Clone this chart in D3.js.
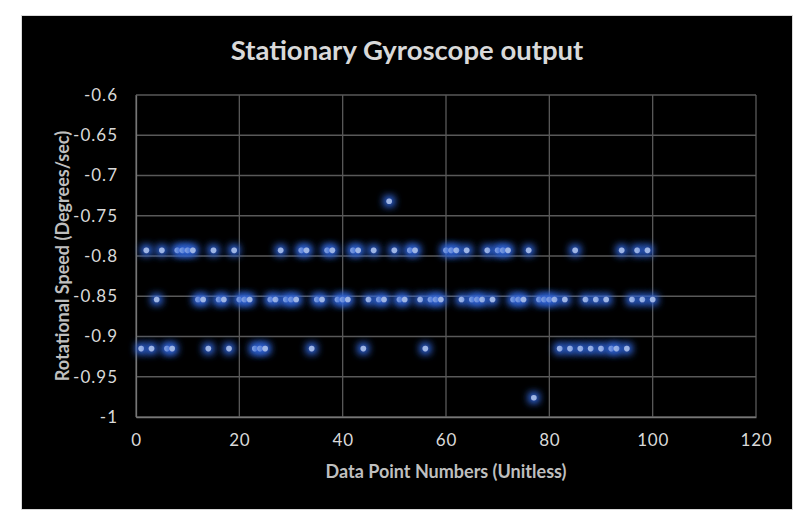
<!DOCTYPE html>
<html>
<head>
<meta charset="utf-8">
<script src="https://cdn.jsdelivr.net/npm/d3@7"></script>
<style>
    body { margin: 0; background: #ffffff; }
    svg text { font-family: Lato, "Open Sans", sans-serif; fill: #d9d9d9; }
</style>
</head>
<body>
<div id="chart"></div>
<script>
// x values are just the point numbers 1..100
var pointNumbers = d3.range(1, 101);

// rotational speed readings (deg/sec)
var speeds = [
    -0.915, -0.793, -0.915, -0.854, -0.793, -0.915, -0.915, -0.793, -0.793, -0.793,
    -0.793, -0.854, -0.854, -0.915, -0.793, -0.854, -0.854, -0.915, -0.793, -0.854,
    -0.854, -0.854, -0.915, -0.915, -0.915, -0.854, -0.854, -0.793, -0.854, -0.854,
    -0.854, -0.793, -0.793, -0.915, -0.854, -0.854, -0.793, -0.793, -0.854, -0.854,
    -0.854, -0.793, -0.793, -0.915, -0.854, -0.793, -0.854, -0.854, -0.732, -0.793,
    -0.854, -0.854, -0.793, -0.793, -0.854, -0.915, -0.854, -0.854, -0.854, -0.793,
    -0.793, -0.793, -0.854, -0.793, -0.854, -0.854, -0.854, -0.793, -0.854, -0.793,
    -0.793, -0.793, -0.854, -0.854, -0.854, -0.793, -0.976, -0.854, -0.854, -0.854,
    -0.854, -0.915, -0.854, -0.915, -0.793, -0.915, -0.854, -0.915, -0.854, -0.915,
    -0.854, -0.915, -0.915, -0.793, -0.915, -0.854, -0.793, -0.854, -0.793, -0.854
];

var xTicks = [0, 20, 40, 60, 80, 100, 120];
var yTicks = [-1, -0.95, -0.9, -0.85, -0.8, -0.75, -0.7, -0.65, -0.6];

var data = pointNumbers.map(function (n, i) {
    return {n: n, speed: speeds[i]};
});

var totalWidth = 806, totalHeight = 530;
var margin = {top: 95, right: 50, bottom: 113, left: 136};
var width = 756 - margin.left;
var height = 417 - margin.top;

var svg = d3.select("#chart").append("svg")
    .attr("width", totalWidth)
    .attr("height", totalHeight);

// glow filter for the markers
var defs = svg.append("defs");
var glow = defs.append("filter")
    .attr("id", "glow")
    .attr("x", "-300%").attr("y", "-300%")
    .attr("width", "700%").attr("height", "700%");
glow.append("feMorphology")
    .attr("in", "SourceAlpha").attr("operator", "dilate").attr("radius", 2.5)
    .attr("result", "fat");
glow.append("feGaussianBlur")
    .attr("in", "fat").attr("stdDeviation", 3.8).attr("result", "blur");
glow.append("feFlood")
    .attr("flood-color", "#2e63d6").attr("flood-opacity", 1);
glow.append("feComposite")
    .attr("in2", "blur").attr("operator", "in").attr("result", "halo");
var merge = glow.append("feMerge");
merge.append("feMergeNode").attr("in", "halo");
merge.append("feMergeNode").attr("in", "SourceGraphic");

// chart background with the thin light frame
svg.append("rect")
    .attr("x", 21.5).attr("y", 15.5)
    .attr("width", 771).attr("height", 494)
    .attr("fill", "#000000")
    .attr("stroke", "#d9d9d9")
    .attr("stroke-width", 1);

var g = svg.append("g")
    .attr("transform", "translate(" + margin.left + "," + margin.top + ")");

var x = d3.scaleLinear().domain([0, 120]).range([0, width]);
var y = d3.scaleLinear().domain([-1, -0.6]).range([height, 0]);

// gridlines
g.append("g")
    .selectAll("line.hgrid")
    .data(yTicks)
    .enter().append("line")
    .attr("class", "hgrid")
    .attr("x1", 0).attr("x2", width)
    .attr("y1", function (d) { return y(d); })
    .attr("y2", function (d) { return y(d); })
    .attr("stroke", "#595959")
    .attr("stroke-width", 1.3);

g.append("g")
    .selectAll("line.vgrid")
    .data(xTicks)
    .enter().append("line")
    .attr("class", "vgrid")
    .attr("y1", 0).attr("y2", height)
    .attr("x1", function (d) { return x(d); })
    .attr("x2", function (d) { return x(d); })
    .attr("stroke", "#595959")
    .attr("stroke-width", 1.3);

// axes (labels; the grid draws the rest)
var xAxis = g.append("g")
    .attr("transform", "translate(0," + height + ")")
    .call(d3.axisBottom(x).tickValues(xTicks).tickSize(0).tickPadding(17).tickFormat(d3.format("d")));
xAxis.select(".domain").attr("stroke", "#767676").attr("stroke-width", 1.3);
xAxis.selectAll("text")
    .style("font-size", "17px")
    .style("letter-spacing", "0.8px")
    .attr("fill", "#d9d9d9");

var yAxis = g.append("g")
    .call(d3.axisLeft(y).tickValues(yTicks).tickSize(0).tickPadding(18)
        .tickFormat(function (d) { return String(+d.toFixed(2)); }));
yAxis.select(".domain").attr("stroke", "#767676").attr("stroke-width", 1.3);
yAxis.selectAll("text")
    .style("font-size", "17px")
    .style("letter-spacing", "1px")
    .attr("fill", "#d9d9d9");

// data points
g.selectAll(".dot")
    .data(data)
    .enter().append("circle")
    .attr("class", "dot")
    .attr("cx", function (d) { return x(d.n); })
    .attr("cy", function (d) { return y(d.speed); })
    .attr("r", 2.8)
    .attr("fill", "#9db5e6")
    .attr("filter", "url(#glow)");

// titles
svg.append("text")
    .attr("x", 407).attr("y", 60)
    .attr("text-anchor", "middle")
    .style("font-size", "27.5px")
    .style("font-weight", "bold")
    .text("Stationary Gyroscope output");

svg.append("text")
    .attr("x", 446).attr("y", 478)
    .attr("text-anchor", "middle")
    .style("font-size", "18px")
    .style("font-weight", "bold")
    .style("fill", "#bfbfbf")
    .text("Data Point Numbers (Unitless)");

svg.append("text")
    .attr("transform", "translate(69,256) rotate(-90)")
    .attr("text-anchor", "middle")
    .style("font-size", "18px")
    .style("font-weight", "bold")
    .style("fill", "#bfbfbf")
    .text("Rotational Speed (Degrees/sec)");
</script>
</body>
</html>
